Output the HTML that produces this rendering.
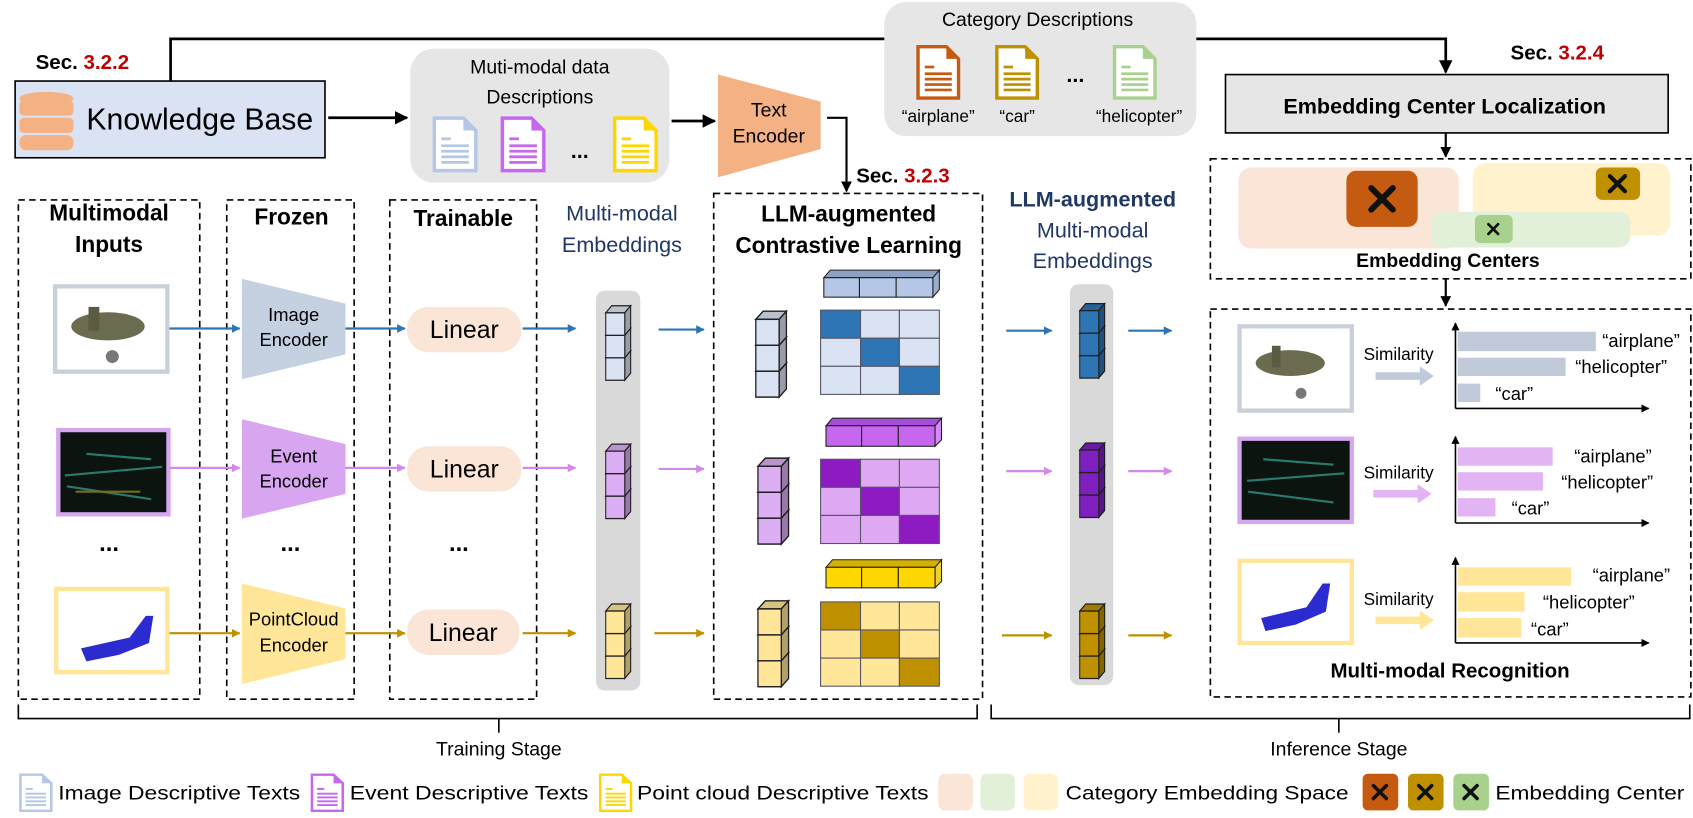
<!DOCTYPE html>
<html><head><meta charset="utf-8"><style>
html,body{margin:0;padding:0;background:#fff;}
svg{display:block;}
text{font-family:"Liberation Sans",Arial,sans-serif;}
</style></head><body>
<svg width="1693" height="818" viewBox="0 0 1568 757" preserveAspectRatio="none" xmlns="http://www.w3.org/2000/svg">
<defs>
<marker id="ak" viewBox="0 0 10 10" refX="9" refY="5" markerWidth="5" markerHeight="5" orient="auto"><path d="M0,0 L10,5 L0,10 z" fill="#000"/></marker>
<marker id="ab" viewBox="0 0 10 10" refX="9" refY="5" markerWidth="4" markerHeight="4" orient="auto"><path d="M0,0 L10,5 L0,10 z" fill="#2e75b6"/></marker>
<marker id="ap" viewBox="0 0 10 10" refX="9" refY="5" markerWidth="4" markerHeight="4" orient="auto"><path d="M0,0 L10,5 L0,10 z" fill="#d18ae8"/></marker>
<marker id="ag" viewBox="0 0 10 10" refX="9" refY="5" markerWidth="4" markerHeight="4" orient="auto"><path d="M0,0 L10,5 L0,10 z" fill="#bf9000"/></marker>
<g id="cube">
<polygon points="0,5 5,0 21,0 16,5" fill="currentColor" stroke="#222" stroke-width="0.9"/>
<polygon points="0,5 5,0 21,0 16,5" fill="#000" opacity="0.15"/>
<polygon points="16,5 21,0 21,16 16,21" fill="currentColor" stroke="#222" stroke-width="0.9"/>
<polygon points="16,5 21,0 21,16 16,21" fill="#000" opacity="0.3"/>
<rect x="0" y="5" width="16" height="16" fill="currentColor" stroke="#222" stroke-width="0.9"/>
</g>
<g id="stack"><use href="#cube" y="32"/><use href="#cube" y="16"/><use href="#cube" y="0"/></g>
<g id="doc">
<path d="M1,1 H22 L31,10 V39 H1 Z" fill="#fff" stroke="currentColor" stroke-width="2.5"/>
<path d="M22,1 V10 H31 Z" fill="currentColor"/>
<g stroke="currentColor" stroke-width="2"><line x1="6" y1="16" x2="13" y2="16"/><line x1="6" y1="21" x2="26" y2="21"/><line x1="6" y1="25" x2="26" y2="25"/><line x1="6" y1="29" x2="26" y2="29"/><line x1="6" y1="33" x2="26" y2="33"/></g>
</g>
<g id="xmark"><path d="M-1,-1 L1,1 M1,-1 L-1,1" stroke="#111" stroke-width="0.55" stroke-linecap="round"/></g>
</defs>

<!-- top connector -->
<polyline points="158,75 158,36 1339,36 1339,67" fill="none" stroke="#000" stroke-width="2.5" marker-end="url(#ak)"/>
<text x="33" y="64" font-size="19" font-weight="bold">Sec. <tspan fill="#c00000">3.2.2</tspan></text>

<!-- Knowledge base -->
<rect x="14" y="75" width="287" height="71" fill="#dae3f3" stroke="#000" stroke-width="1.5"/>
<g fill="#f4b183">
<ellipse cx="43" cy="91" rx="25" ry="6"/>
<rect x="18" y="93" width="50" height="14" rx="4"/>
<rect x="18" y="109" width="50" height="14" rx="4"/>
<rect x="18" y="125" width="50" height="14" rx="6"/>
</g>
<text x="80" y="120" font-size="28">Knowledge Base</text>
<line x1="304" y1="109" x2="377" y2="109" stroke="#000" stroke-width="2.5" marker-end="url(#ak)"/>

<!-- Descriptions box -->
<rect x="380" y="45" width="240" height="124" rx="22" fill="#e6e6e6"/>
<text x="500" y="68" font-size="18" text-anchor="middle">Muti-modal data</text>
<text x="500" y="96" font-size="18" text-anchor="middle">Descriptions</text>
<use href="#doc" transform="translate(401,108) scale(1.28)" color="#b4c7e7"/>
<use href="#doc" transform="translate(464,108) scale(1.28)" color="#c766ee"/>
<text x="537" y="146" font-size="20" font-weight="bold" text-anchor="middle">...</text>
<use href="#doc" transform="translate(568,108) scale(1.28)" color="#ffd700"/>
<line x1="622" y1="112" x2="662" y2="112" stroke="#000" stroke-width="2.5" marker-end="url(#ak)"/>

<!-- Text encoder -->
<polygon points="665,69 760,94 760,138 665,164" fill="#f4b183"/>
<text x="712" y="108" font-size="18" text-anchor="middle">Text</text>
<text x="712" y="132" font-size="18" text-anchor="middle">Encoder</text>
<polyline points="766,109 784,109 784,177" fill="none" stroke="#000" stroke-width="2" marker-end="url(#ak)"/>
<text x="793" y="169" font-size="19" font-weight="bold">Sec. <tspan fill="#c00000">3.2.3</tspan></text>

<!-- Category descriptions -->
<rect x="819" y="2" width="289" height="124" rx="20" fill="#e6e6e6"/>
<text x="961" y="24" font-size="18" text-anchor="middle">Category Descriptions</text>
<use href="#doc" transform="translate(849,42) scale(1.25)" color="#c55a11"/>
<use href="#doc" transform="translate(922,42) scale(1.25)" color="#bf9000"/>
<text x="996" y="76" font-size="20" font-weight="bold" text-anchor="middle">...</text>
<use href="#doc" transform="translate(1031,42) scale(1.25)" color="#a9d18e"/>
<text x="869" y="113" font-size="16" text-anchor="middle">“airplane”</text>
<text x="942" y="113" font-size="16" text-anchor="middle">“car”</text>
<text x="1055" y="113" font-size="16" text-anchor="middle">“helicopter”</text>

<text x="1399" y="55" font-size="19" font-weight="bold">Sec. <tspan fill="#c00000">3.2.4</tspan></text>
<rect x="1135" y="69" width="410" height="54" fill="#e6e6e6" stroke="#000" stroke-width="1.5"/>
<text x="1338" y="105" font-size="20" font-weight="bold" text-anchor="middle">Embedding Center Localization</text>
<line x1="1339" y1="123" x2="1339" y2="145" stroke="#000" stroke-width="2" marker-end="url(#ak)"/>

<!-- Embedding centers -->
<rect x="1121" y="147" width="445" height="111" fill="none" stroke="#000" stroke-width="1.5" stroke-dasharray="6,4"/>
<rect x="1147" y="155" width="204" height="75" rx="12" fill="#fbe5d6"/>
<rect x="1364" y="151" width="183" height="67" rx="12" fill="#fff2cc"/>
<rect x="1325" y="196" width="185" height="33" rx="10" fill="#e2f0d9"/>
<rect x="1247" y="158" width="66" height="52" rx="9" fill="#c55a11"/>
<use href="#xmark" transform="translate(1280,184) scale(10)"/>
<rect x="1478" y="155" width="41" height="30" rx="6" fill="#bf9000"/>
<use href="#xmark" transform="translate(1498,170) scale(7)"/>
<rect x="1366" y="199" width="35" height="26" rx="5" fill="#a9d18e"/>
<use href="#xmark" transform="translate(1383,212) scale(4.5)"/>
<text x="1341" y="247" font-size="18" font-weight="bold" text-anchor="middle">Embedding Centers</text>
<line x1="1339" y1="258" x2="1339" y2="283" stroke="#000" stroke-width="2" marker-end="url(#ak)"/>

<!-- Recognition box -->
<rect x="1121" y="286" width="445" height="359" fill="none" stroke="#000" stroke-width="1.5" stroke-dasharray="6,4"/>
<text x="1343" y="627" font-size="19" font-weight="bold" text-anchor="middle">Multi-modal Recognition</text>

<!-- Training dashed boxes -->
<g fill="none" stroke="#000" stroke-width="1.5" stroke-dasharray="6,4">
<rect x="17" y="185" width="168" height="462"/>
<rect x="210" y="185" width="118" height="462"/>
<rect x="361" y="185" width="136" height="462"/>
<rect x="661" y="179" width="249" height="468"/>
</g>
<g font-size="21" font-weight="bold" text-anchor="middle">
<text x="101" y="204">Multimodal</text>
<text x="101" y="233">Inputs</text>
<text x="270" y="208">Frozen</text>
<text x="429" y="209">Trainable</text>
<text x="786" y="205">LLM-augmented</text>
<text x="786" y="234">Contrastive Learning</text>
</g>
<g font-size="20" fill="#203864" text-anchor="middle">
<text x="576" y="204">Multi-modal</text>
<text x="576" y="233">Embeddings</text>
<text x="1012" y="191" font-weight="bold">LLM-augmented</text>
<text x="1012" y="220">Multi-modal</text>
<text x="1012" y="248">Embeddings</text>
</g>

<!-- input images -->
<rect x="51" y="265" width="104" height="79" fill="#fff" stroke="#c9d0da" stroke-width="4"/>
<ellipse cx="100" cy="302" rx="34" ry="13" fill="#6b6b50"/><rect x="82" y="284" width="10" height="22" fill="#5b5a42"/><circle cx="104" cy="330" r="6" fill="#777"/>
<rect x="54" y="398" width="102" height="78" fill="#0c140f" stroke="#d6a6ee" stroke-width="4"/>
<path d="M60,440 L150,432 M62,450 L140,462 M80,420 L140,425" stroke="#2a7b6b" stroke-width="2"/>
<path d="M70,455 L130,455" stroke="#7a6a20" stroke-width="2"/>
<rect x="52" y="545" width="103" height="77" fill="#fff" stroke="#ffe699" stroke-width="4"/>
<path d="M75,600 L120,590 L135,570 L142,570 L138,595 L110,606 L80,612 Z" fill="#2b2bcf"/>
<text x="101" y="510" font-size="22" font-weight="bold" text-anchor="middle">...</text>
<text x="269" y="510" font-size="22" font-weight="bold" text-anchor="middle">...</text>
<text x="425" y="510" font-size="22" font-weight="bold" text-anchor="middle">...</text>
<text x="575" y="515" font-size="22" font-weight="bold" text-anchor="middle">...</text>

<!-- encoders -->
<polygon points="224,258 320,281 320,328 224,351" fill="#c5d0e0"/>
<polygon points="224,388 320,411 320,457 224,480" fill="#d8a6f0"/>
<polygon points="224,540 320,563 320,610 224,633" fill="#ffe699"/>
<g font-size="17" text-anchor="middle">
<text x="272" y="297">Image</text><text x="272" y="320">Encoder</text>
<text x="272" y="428">Event</text><text x="272" y="451">Encoder</text>
<text x="272" y="579">PointCloud</text><text x="272" y="603">Encoder</text>
</g>
<g stroke-width="2">
<line x1="157" y1="304" x2="222" y2="304" stroke="#2e75b6" marker-end="url(#ab)"/>
<line x1="157" y1="433" x2="222" y2="433" stroke="#d18ae8" marker-end="url(#ap)"/>
<line x1="157" y1="586" x2="222" y2="586" stroke="#bf9000" marker-end="url(#ag)"/>
<line x1="320" y1="304" x2="375" y2="304" stroke="#2e75b6" marker-end="url(#ab)"/>
<line x1="320" y1="433" x2="375" y2="433" stroke="#d18ae8" marker-end="url(#ap)"/>
<line x1="320" y1="586" x2="375" y2="586" stroke="#bf9000" marker-end="url(#ag)"/>
<line x1="484" y1="304" x2="533" y2="304" stroke="#2e75b6" marker-end="url(#ab)"/>
<line x1="484" y1="433" x2="533" y2="433" stroke="#d18ae8" marker-end="url(#ap)"/>
<line x1="484" y1="586" x2="533" y2="586" stroke="#bf9000" marker-end="url(#ag)"/>
<line x1="610" y1="305" x2="652" y2="305" stroke="#2e75b6" marker-end="url(#ab)"/>
<line x1="610" y1="434" x2="652" y2="434" stroke="#d18ae8" marker-end="url(#ap)"/>
<line x1="606" y1="586" x2="652" y2="586" stroke="#bf9000" marker-end="url(#ag)"/>
<line x1="932" y1="306" x2="974" y2="306" stroke="#2e75b6" marker-end="url(#ab)"/>
<line x1="932" y1="436" x2="974" y2="436" stroke="#d18ae8" marker-end="url(#ap)"/>
<line x1="928" y1="588" x2="974" y2="588" stroke="#bf9000" marker-end="url(#ag)"/>
<line x1="1045" y1="306" x2="1085" y2="306" stroke="#2e75b6" marker-end="url(#ab)"/>
<line x1="1045" y1="436" x2="1085" y2="436" stroke="#d18ae8" marker-end="url(#ap)"/>
<line x1="1045" y1="588" x2="1085" y2="588" stroke="#bf9000" marker-end="url(#ag)"/>
</g>

<!-- Linear -->
<g fill="#fbe5d6"><rect x="377" y="284" width="106" height="42" rx="20"/><rect x="377" y="413" width="106" height="42" rx="20"/><rect x="377" y="564" width="104" height="42" rx="20"/></g>
<g font-size="23" text-anchor="middle"><text x="430" y="313">Linear</text><text x="430" y="442">Linear</text><text x="429" y="593">Linear</text></g>

<!-- gray bars -->
<rect x="552" y="269" width="41" height="370" rx="8" fill="#d9d9d9"/>
<rect x="991" y="263" width="40" height="371" rx="8" fill="#d9d9d9"/>
<use href="#stack" transform="translate(561,283) scale(1.1,1.3)" color="#dae3f3"/>
<use href="#stack" transform="translate(561,411) scale(1.1,1.3)" color="#dcaef3"/>
<use href="#stack" transform="translate(561,559) scale(1.1,1.3)" color="#ffe699"/>
<use href="#stack" transform="translate(1000,281) scale(1.1,1.3)" color="#2e75b6"/>
<use href="#stack" transform="translate(1000,410) scale(1.1,1.3)" color="#7f1fbf"/>
<use href="#stack" transform="translate(1000,559) scale(1.1,1.3)" color="#bf9000"/>

<!-- LLM contents -->
<use href="#stack" transform="translate(700,288) scale(1.35,1.5)" color="#dae3f3"/>
<use href="#stack" transform="translate(702,424) scale(1.35,1.5)" color="#dcaef3"/>
<use href="#stack" transform="translate(702,556) scale(1.35,1.5)" color="#ffe699"/>

<g stroke="#222" stroke-width="1">
<polygon points="763,257 769,250 870,250 864,257" fill="#8ea3c4"/>
<polygon points="864,257 870,250 870,268 864,275" fill="#9aaecd"/>
<rect x="763" y="257" width="33" height="18" fill="#b4c7e7"/><rect x="796" y="257" width="34" height="18" fill="#b4c7e7"/><rect x="830" y="257" width="34" height="18" fill="#b4c7e7"/>
<polygon points="765,394 771,387 872,387 866,394" fill="#a64dd9"/>
<polygon points="866,394 872,387 872,407 866,413" fill="#d58af5"/>
<rect x="765" y="394" width="33" height="19" fill="#c766ee"/><rect x="798" y="394" width="34" height="19" fill="#c766ee"/><rect x="832" y="394" width="34" height="19" fill="#c766ee"/>
<polygon points="765,525 771,518 872,518 866,525" fill="#d4b000"/>
<polygon points="866,525 872,518 872,538 866,544" fill="#f0d030"/>
<rect x="765" y="525" width="33" height="19" fill="#ffd700"/><rect x="798" y="525" width="34" height="19" fill="#ffd700"/><rect x="832" y="525" width="34" height="19" fill="#ffd700"/>
</g>
<g stroke="#556" stroke-width="1">
<rect x="760" y="287" width="37" height="26" fill="#2e75b6"/><rect x="797" y="287" width="36" height="26" fill="#dae3f3"/><rect x="833" y="287" width="37" height="26" fill="#dae3f3"/>
<rect x="760" y="313" width="37" height="26" fill="#dae3f3"/><rect x="797" y="313" width="36" height="26" fill="#2e75b6"/><rect x="833" y="313" width="37" height="26" fill="#dae3f3"/>
<rect x="760" y="339" width="37" height="26" fill="#dae3f3"/><rect x="797" y="339" width="36" height="26" fill="#dae3f3"/><rect x="833" y="339" width="37" height="26" fill="#2e75b6"/>
<rect x="760" y="425" width="37" height="26" fill="#8e1bc1"/><rect x="797" y="425" width="36" height="26" fill="#dfa8f2"/><rect x="833" y="425" width="37" height="26" fill="#dfa8f2"/>
<rect x="760" y="451" width="37" height="26" fill="#dfa8f2"/><rect x="797" y="451" width="36" height="26" fill="#8e1bc1"/><rect x="833" y="451" width="37" height="26" fill="#dfa8f2"/>
<rect x="760" y="477" width="37" height="26" fill="#dfa8f2"/><rect x="797" y="477" width="36" height="26" fill="#dfa8f2"/><rect x="833" y="477" width="37" height="26" fill="#8e1bc1"/>
<rect x="760" y="557" width="37" height="26" fill="#bf9000"/><rect x="797" y="557" width="36" height="26" fill="#ffe699"/><rect x="833" y="557" width="37" height="26" fill="#ffe699"/>
<rect x="760" y="583" width="37" height="26" fill="#ffe699"/><rect x="797" y="583" width="36" height="26" fill="#bf9000"/><rect x="833" y="583" width="37" height="26" fill="#ffe699"/>
<rect x="760" y="609" width="37" height="26" fill="#ffe699"/><rect x="797" y="609" width="36" height="26" fill="#ffe699"/><rect x="833" y="609" width="37" height="26" fill="#bf9000"/>
</g>

<!-- Recognition rows -->
<rect x="1148" y="302" width="104" height="78" fill="#fff" stroke="#c9d0da" stroke-width="4"/>
<ellipse cx="1195" cy="336" rx="32" ry="12" fill="#6b6b50"/><rect x="1178" y="320" width="8" height="20" fill="#5b5a42"/><circle cx="1205" cy="364" r="5" fill="#777"/>
<rect x="1148" y="406" width="104" height="77" fill="#0c140f" stroke="#d6a6ee" stroke-width="4"/>
<path d="M1155,445 L1245,438 M1156,455 L1235,465 M1170,425 L1235,430" stroke="#2a7b6b" stroke-width="2"/>
<rect x="1148" y="519" width="104" height="76" fill="#fff" stroke="#ffe699" stroke-width="4"/>
<path d="M1168,572 L1210,562 L1225,540 L1232,540 L1228,566 L1200,578 L1172,584 Z" fill="#2b2bcf"/>
<g font-size="16"><text x="1263" y="333">Similarity</text><text x="1263" y="443">Similarity</text><text x="1263" y="560">Similarity</text></g>
<g stroke-width="7">
<line x1="1274" y1="348" x2="1317" y2="348" stroke="#c0cad8"/><polygon points="1315,339 1328,348 1315,357" fill="#c0cad8"/>
<line x1="1272" y1="457" x2="1315" y2="457" stroke="#e2b4f4"/><polygon points="1313,448 1326,457 1313,466" fill="#e2b4f4"/>
<line x1="1274" y1="574" x2="1317" y2="574" stroke="#ffe699"/><polygon points="1315,565 1328,574 1315,583" fill="#ffe699"/>
</g>
<g stroke="#000" stroke-width="1.5" fill="none">
<polyline points="1348,378 1527,378" marker-end="url(#ak)"/><line x1="1348" y1="378" x2="1348" y2="299" marker-end="url(#ak)"/>
<polyline points="1348,484 1527,484" marker-end="url(#ak)"/><line x1="1348" y1="484" x2="1348" y2="404" marker-end="url(#ak)"/>
<polyline points="1348,595 1527,595" marker-end="url(#ak)"/><line x1="1348" y1="595" x2="1348" y2="516" marker-end="url(#ak)"/>
</g>
<g fill="#c0cad8"><rect x="1350" y="307" width="128" height="18"/><rect x="1350" y="331" width="100" height="17"/><rect x="1350" y="355" width="21" height="17"/></g>
<g fill="#e2b4f4"><rect x="1350" y="414" width="88" height="17"/><rect x="1350" y="437" width="79" height="17"/><rect x="1350" y="461" width="35" height="17"/></g>
<g fill="#ffe699"><rect x="1350" y="525" width="105" height="17"/><rect x="1350" y="548" width="62" height="18"/><rect x="1350" y="572" width="59" height="18"/></g>
<g font-size="17">
<text x="1484" y="321">“airplane”</text><text x="1459" y="345">“helicopter”</text><text x="1385" y="370">“car”</text>
<text x="1458" y="428">“airplane”</text><text x="1446" y="452">“helicopter”</text><text x="1400" y="476">“car”</text>
<text x="1475" y="538">“airplane”</text><text x="1429" y="563">“helicopter”</text><text x="1418" y="588">“car”</text>
</g>

<!-- stage brackets -->
<g stroke="#000" stroke-width="1.5" fill="none">
<polyline points="17,652 17,665 905,665 905,652"/><line x1="462" y1="665" x2="462" y2="678"/>
<polyline points="918,652 918,665 1565,665 1565,652"/><line x1="1240" y1="665" x2="1240" y2="678"/>
</g>
<text x="462" y="699" font-size="18" text-anchor="middle">Training Stage</text>
<text x="1240" y="699" font-size="18" text-anchor="middle">Inference Stage</text>

<!-- legend -->
<use href="#doc" transform="translate(18,716) scale(0.95,0.88)" color="#b4c7e7"/>
<use href="#doc" transform="translate(288,716) scale(0.95,0.88)" color="#c766ee"/>
<use href="#doc" transform="translate(555,716) scale(0.95,0.88)" color="#ffd700"/>
<g font-size="18">
<text x="54" y="740" textLength="224" lengthAdjust="spacingAndGlyphs">Image Descriptive Texts</text>
<text x="324" y="740" textLength="221" lengthAdjust="spacingAndGlyphs">Event Descriptive Texts</text>
<text x="590" y="740" textLength="270" lengthAdjust="spacingAndGlyphs">Point cloud Descriptive Texts</text>
<text x="987" y="740" textLength="262" lengthAdjust="spacingAndGlyphs">Category Embedding Space</text>
<text x="1385" y="740" textLength="175" lengthAdjust="spacingAndGlyphs">Embedding Center</text>
</g>
<rect x="869" y="716" width="32" height="34" rx="6" fill="#fbe5d6"/>
<rect x="908" y="716" width="32" height="34" rx="6" fill="#e2f0d9"/>
<rect x="948" y="716" width="32" height="34" rx="6" fill="#fff2cc"/>
<rect x="1262" y="716" width="33" height="34" rx="5" fill="#c55a11"/><use href="#xmark" transform="translate(1278,733) scale(6)"/>
<rect x="1304" y="716" width="33" height="34" rx="5" fill="#bf9000"/><use href="#xmark" transform="translate(1320,733) scale(6)"/>
<rect x="1346" y="716" width="33" height="34" rx="5" fill="#a9d18e"/><use href="#xmark" transform="translate(1362,733) scale(6)"/>
</svg>
</body></html>
